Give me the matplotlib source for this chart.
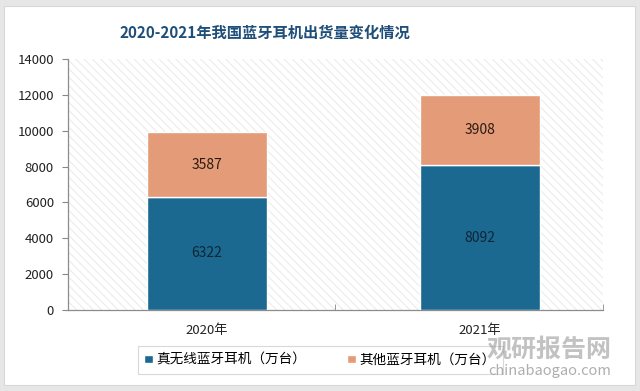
import matplotlib.pyplot as plt
import matplotlib.patches as mpatches
import numpy as np

plt.rcParams['font.family'] = ['Noto Sans CJK SC', 'DejaVu Sans']

# data (万台)
years = ['2020年', '2021年']
tws = [6322, 8092]
other = [3587, 3908]
series_names = ['真无线蓝牙耳机（万台）', '其他蓝牙耳机（万台）']
yticks = [0, 2000, 4000, 6000, 8000, 10000, 12000, 14000]

blue = '#1b6891'
orange = '#e49b78'

fig = plt.figure(figsize=(6.4, 3.91), dpi=100)
fig.patch.set_facecolor('#e6e6e6')
# white inner panel
panel = mpatches.Rectangle((0.006, 0.015), 0.986, 0.97, transform=fig.transFigure,
                           facecolor='white', edgecolor='#d8d8d8', lw=0.8, zorder=-5)
fig.patches.append(panel)

ax = fig.add_axes([0.106, 0.207, 0.836, 0.642])
ax.set_zorder(2)
ax.set_facecolor('white')
plt.rcParams['hatch.linewidth'] = 0.8
# faint diagonal hatch in the plot area
ax.add_patch(mpatches.Rectangle((0, 0), 1, 1, transform=ax.transAxes, facecolor='none',
                                edgecolor='#ececec', hatch='\\\\\\\\', lw=0, zorder=0))

x = np.arange(len(years))
w = 0.44
ax.bar(x, tws, w, color=blue, edgecolor='white', lw=1.0, zorder=3, label=series_names[0])
ax.bar(x, other, w, bottom=tws, color=orange, edgecolor='white', lw=1.0, zorder=3,
       label=series_names[1])

for i in range(len(years)):
    ax.text(x[i], tws[i] / 2, str(tws[i]), ha='center', va='center', fontsize=10,
            color='#0e2636', zorder=4)
    ax.text(x[i], tws[i] + other[i] / 2, str(other[i]), ha='center', va='center',
            fontsize=10, color='#2a1a12', zorder=4)

ax.set_xlim(-0.51, 1.45)
ax.set_ylim(0, 14000)
ax.set_yticks(yticks)
ax.set_yticklabels([str(v) for v in yticks], fontsize=9.5, color='#222222')
ax.set_xticks(x)
ax.set_xticklabels(years, fontsize=9.5, color='#222222')
ax.set_xticks([-0.51, 0.47, 1.45], minor=True)
ax.tick_params(axis='x', which='major', length=0, pad=10)
ax.tick_params(axis='x', which='minor', length=4, color='#888888', direction='in')
ax.tick_params(axis='y', length=4, color='#888888', pad=6)

for s in ['top', 'right']:
    ax.spines[s].set_visible(False)
for s in ['left', 'bottom']:
    ax.spines[s].set_color('#8c8c8c')
    ax.spines[s].set_linewidth(0.9)

fig.text(0.414, 0.915, '2020-2021年我国蓝牙耳机出货量变化情况', ha='center', va='center',
         fontsize=11, fontweight='bold', color='#1f4e79')

leg = fig.legend(loc='center left', bbox_to_anchor=(0.215, 0.08), ncol=2, frameon=True,
                 fontsize=9.8, handlelength=0.6, handleheight=0.6, handletextpad=0.3,
                 columnspacing=3.0, borderpad=0.5, borderaxespad=0, fancybox=False)
leg.get_frame().set_edgecolor('#d0d0d0')
leg.get_frame().set_linewidth(0.8)

# watermark
fig.text(0.955, 0.105, '观研报告网', ha='right', va='center', fontsize=18, fontweight='bold',
         color='#9a9a9a', alpha=0.6, zorder=10)
fig.text(0.955, 0.05, 'chinabaogao.com', ha='right', va='center', fontsize=10.5,
         color='#9a9a9a', alpha=0.8, zorder=10)

fig.savefig('out.png', dpi=100)
